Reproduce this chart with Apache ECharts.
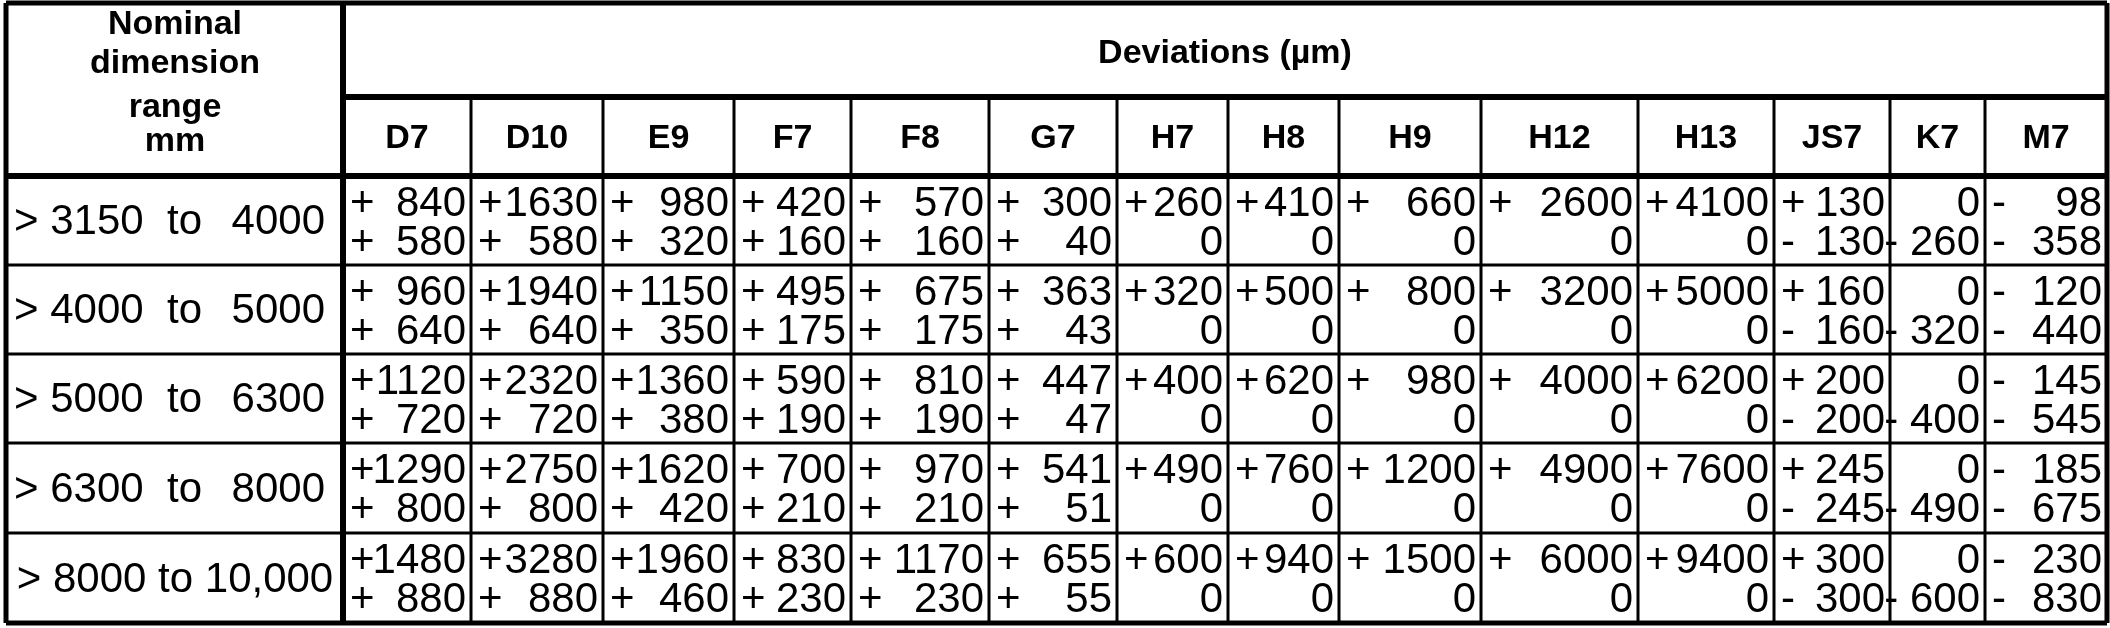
<!DOCTYPE html>
<html><head><meta charset="utf-8">
<script src="https://cdn.jsdelivr.net/npm/echarts@6/dist/echarts.min.js"></script>
<style>html,body{margin:0;padding:0;background:#fff}#c{width:2110px;height:628px}</style>
</head><body><div id="c"></div>
<script>
const columns = ['D7','D10','E9','F7','F8','G7','H7','H8','H9','H12','H13','JS7','K7','M7'];
const rangeFrom = ['3150','4000','5000','6300','8000'];
const rangeTo = ['4000','5000','6300','8000','10,000'];
const D7 = [[840,960,1120,1290,1480],[580,640,720,800,880]];
const D10 = [[1630,1940,2320,2750,3280],[580,640,720,800,880]];
const E9 = [[980,1150,1360,1620,1960],[320,350,380,420,460]];
const F7 = [[420,495,590,700,830],[160,175,190,210,230]];
const F8 = [[570,675,810,970,1170],[160,175,190,210,230]];
const G7 = [[300,363,447,541,655],[40,43,47,51,55]];
const H7 = [[260,320,400,490,600],[0,0,0,0,0]];
const H8 = [[410,500,620,760,940],[0,0,0,0,0]];
const H9 = [[660,800,980,1200,1500],[0,0,0,0,0]];
const H12 = [[2600,3200,4000,4900,6000],[0,0,0,0,0]];
const H13 = [[4100,5000,6200,7600,9400],[0,0,0,0,0]];
const JS7 = [[130,160,200,245,300],[-130,-160,-200,-245,-300]];
const K7 = [[0,0,0,0,0],[-260,-320,-400,-490,-600]];
const M7 = [[-98,-120,-145,-185,-230],[-358,-440,-545,-675,-830]];
const values = [D7,D10,E9,F7,F8,G7,H7,H8,H9,H12,H13,JS7,K7,M7];

// layout
const X = [343,471,603,734,851,989,1117,1228,1339,1481,1638,1774,1890,1985,2107];
const Y = [176,265,354,443,533,623];
const L = 6, T = 3, R = 2107, B = 623, HY = 97;
const font = '"Liberation Sans Narrow","Liberation Sans",Arial,sans-serif';
const bold = '"Liberation Sans",Arial,sans-serif';
const FS = 42, HS = 34;
const g = [];
function line(x1,y1,x2,y2,w){g.push({type:'line',shape:{x1,y1,x2,y2},style:{stroke:'#000',lineWidth:w},z:10});}
function text(t,x,y,align,f,size,weight){g.push({type:'text',x,y,style:{text:t,align,verticalAlign:'middle',font:(weight||'normal')+' '+size+'px '+f,fill:'#000'},z:5});}

line(L,T,R,T,5); line(L,B,R,B,5); line(L,T,L,B,5); line(R,T,R,B,5);
line(X[0],T,X[0],B,6);
line(X[0],HY,R,HY,6);
line(L,Y[0],R,Y[0],6);
for(let i=1;i<Y.length-1;i++) line(L,Y[i],R,Y[i],3);
for(let j=1;j<X.length-1;j++) line(X[j],HY,X[j],B,3);

text('Nominal',175,25,'center',bold,HS,'bold');
text('dimension',175,64,'center',bold,HS,'bold');
text('range',175,108,'center',bold,HS,'bold');
text('mm',175,142,'center',bold,HS,'bold');
text('Deviations (µm)',(X[0]+R)/2,54,'center',bold,HS,'bold');
columns.forEach((c,j)=>text(c,(X[j]+X[j+1])/2,139,'center',bold,HS,'bold'));

rangeFrom.forEach((f,i)=>{
  const cy=(Y[i]+Y[i+1])/2+2;
  if(i===rangeFrom.length-1) text('> '+f+' to '+rangeTo[i],175,cy,'center',font,FS);
  else { text('> '+f+'  to',14,cy,'left',font,FS); text(rangeTo[i],325,cy,'right',font,FS); }
});

values.forEach((v,j)=>{
  const isK = columns[j]==='K7';
  for(let r=0;r<2;r++) for(let i=0;i<5;i++){
    const val=v[r][i];
    const cy=Y[i]+(r===0?28:67);
    const xr=X[j+1]-5;
    if(val===0){ text('0',xr,cy,'right',font,FS); continue; }
    const s=val<0?'-':'+';
    if(isK){ text(s+' '+Math.abs(val),xr,cy,'right',font,FS); continue; }
    text(s,X[j]+7,cy,'left',font,FS);
    text(String(Math.abs(val)),xr,cy,'right',font,FS);
  }
});

const chart=echarts.init(document.getElementById('c'),null,{renderer:'canvas'});
chart.setOption({animation:false,backgroundColor:'#fff',graphic:{elements:g}});
</script></body></html>
